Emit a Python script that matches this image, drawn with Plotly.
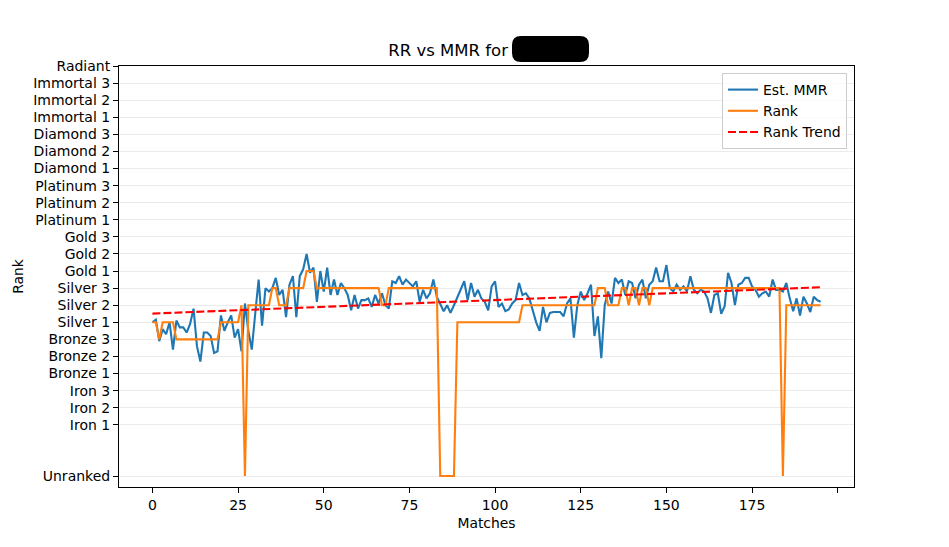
import plotly.graph_objects as go

matches = list(range(196))

est_mmr = [
    9.0, 9.15, 7.9, 8.6, 8.3, 9.0, 7.4, 9.1, 8.7, 8.7,
    8.4, 8.9, 9.8, 7.6, 6.7, 8.4, 8.4, 8.2, 7.2, 7.3,
    9.4, 8.5, 9.0, 9.4, 8.1, 8.6, 7.3, 10.1, 8.5, 7.4,
    9.5, 11.5, 8.8, 11.0, 10.8, 11.0, 11.6, 10.6, 10.9, 9.3,
    11.2, 11.7, 9.3, 11.7, 12.1, 13.0, 11.9, 12.2, 10.2, 12.0,
    10.8, 12.2, 10.6, 11.5, 10.6, 11.3, 11.0, 10.6, 9.7, 10.6,
    9.8, 10.3, 10.3, 10.4, 9.9, 10.6, 10.1, 10.7, 10.0, 9.8,
    11.4, 11.3, 11.7, 11.2, 11.5, 11.3, 11.1, 11.4, 10.2, 10.9,
    10.4, 10.7, 11.5, 10.5, 10.1, 9.65, 10.0, 9.55, 10.0, 10.5,
    10.9, 11.4, 10.3, 11.3, 10.5, 10.9, 10.4, 10.2, 9.7, 11.1,
    11.4, 9.9, 10.1, 9.65, 9.75, 10.1, 10.3, 11.3, 10.6, 10.7,
    10.4, 9.7, 9.0, 8.5, 9.9, 9.0, 9.55, 9.6, 9.6, 9.6,
    9.35, 10.1, 10.4, 8.1, 10.0, 10.8, 10.3, 10.7, 11.2, 8.2,
    9.35, 6.9, 10.0, 10.8, 10.1, 11.6, 11.3, 11.5, 10.6, 11.4,
    11.3, 10.4, 11.2, 11.5, 10.4, 11.2, 11.4, 12.2, 11.4, 11.4,
    12.35, 11.0, 10.8, 11.2, 10.9, 11.1, 10.8, 11.7, 10.9, 10.7,
    10.9, 10.8, 10.4, 9.55, 10.6, 10.7, 9.5, 9.94, 11.9, 11.3,
    10.0, 11.2, 11.3, 11.6, 11.6, 11.1, 10.9, 10.5, 10.7, 10.8,
    10.5, 11.5, 10.9, 10.9, 10.8, 11.3, 10.4, 9.65, 10.4, 9.4,
    10.5, 10.1, 9.6, 10.5, 10.3, 10.2,
]

rank = (
    [9, 9, 8, 9, 9, 9, 9] + [8] * 13 + [9] * 6 + [10, 0] + [10] * 7
    + [11, 11] + [10, 10, 10] + [11] * 5 + [12, 12, 12] + [11] * 19
    + [10, 10] + [11] * 15 + [0] * 5 + [9] * 19 + [10] * 22 + [11] * 3
    + [10, 10, 10, 10, 11, 11, 10, 11, 11, 10, 11, 11, 10, 11, 11, 11, 11, 11, 11, 11]
    + [11] * 31 + [0] + [10] * 11
)

trend_start, trend_end = 9.51, 11.05

rank_labels = ["Unranked", "Iron 1", "Iron 2", "Iron 3", "Bronze 1", "Bronze 2", "Bronze 3",
               "Silver 1", "Silver 2", "Silver 3", "Gold 1", "Gold 2", "Gold 3",
               "Platinum 1", "Platinum 2", "Platinum 3", "Diamond 1", "Diamond 2", "Diamond 3",
               "Immortal 1", "Immortal 2", "Immortal 3", "Radiant"]
rank_values = [0] + list(range(3, 25))

x_ticks = [0, 25, 50, 75, 100, 125, 150, 175, 200]
x_tick_labels = ["0", "25", "50", "75", "100", "125", "150", "175", ""]

n = len(matches)
trend = [trend_start + (trend_end - trend_start) * i / (n - 1) for i in matches]

fig = go.Figure()
fig.add_trace(go.Scatter(x=matches, y=est_mmr[:n], mode="lines", name="Est. MMR",
                         line=dict(color="#1f77b4", width=2.1)))
fig.add_trace(go.Scatter(x=matches, y=rank[:n], mode="lines", name="Rank",
                         line=dict(color="#ff7f0e", width=2.1)))
fig.add_trace(go.Scatter(x=matches, y=trend, mode="lines", name="Rank Trend",
                         line=dict(color="#ff0000", width=2.1, dash="8px,3px")))

L, R, T, B = 119, 95, 66, 60
W, H = 949, 547
pw, ph = W - L - R, H - T - B

def px_x(p):
    return (p - L) / pw

def px_y(p):
    return (H - B - p) / ph

# redaction box next to the title
x0, x1, y0, y1 = px_x(512), px_x(589), px_y(62), px_y(36)
rx, ry = 9 / pw, 9 / ph
path = (f"M {x0+rx},{y0} L {x1-rx},{y0} Q {x1},{y0} {x1},{y0+ry} L {x1},{y1-ry} "
        f"Q {x1},{y1} {x1-rx},{y1} L {x0+rx},{y1} Q {x0},{y1} {x0},{y1-ry} "
        f"L {x0},{y0+ry} Q {x0},{y0} {x0+rx},{y0} Z")

fig.update_layout(
    width=W, height=H,
    margin=dict(l=L, r=R, t=T, b=B),
    plot_bgcolor="white", paper_bgcolor="white",
    font=dict(family="DejaVu Sans", size=14, color="black"),
    title=dict(text="RR vs MMR for", x=px_x(508), xanchor="right", xref="paper",
               y=1 - 50 / H, yanchor="middle", font=dict(size=16.5)),
    showlegend=True,
    legend=dict(x=px_x(847), xanchor="right", y=px_y(73), yanchor="top",
                bgcolor="rgba(255,255,255,0.8)", bordercolor="#cccccc", borderwidth=1,
                font=dict(size=14), itemwidth=30, tracegroupgap=2),
    shapes=[dict(type="path", path=path, xref="paper", yref="paper",
                 fillcolor="black", line=dict(width=0))],
)
fig.update_xaxes(range=[-9.75, 204.75], tickvals=x_ticks, ticktext=x_tick_labels,
                 showgrid=False, zeroline=False, showline=True, linecolor="black",
                 linewidth=1, mirror=True, ticks="outside", ticklen=5, tickcolor="black",
                 tickfont=dict(size=14),
                 title=dict(text="Matches", standoff=6, font=dict(size=13.9)))
fig.update_yaxes(range=[-0.64, 24], tickvals=rank_values, ticktext=rank_labels,
                 showgrid=True, gridcolor="#ebebeb", gridwidth=1, zeroline=False,
                 showline=True, linecolor="black", linewidth=1, mirror=True,
                 ticks="outside", ticklen=5, tickcolor="black",
                 tickfont=dict(size=14),
                 title=dict(text="Rank", standoff=6, font=dict(size=13.9)))

fig.write_html("out.html")
